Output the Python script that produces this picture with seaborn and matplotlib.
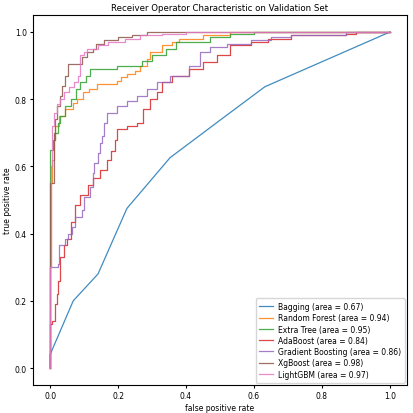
import matplotlib
matplotlib.use("Agg")
import matplotlib.pyplot as plt
import seaborn as sns

# fpr / tpr
bag_fpr = [0.0, 0.0, 0.068, 0.141, 0.226, 0.353, 0.506, 0.632, 1.0]
bag_tpr = [0.0, 0.04, 0.2, 0.28, 0.475, 0.626, 0.742, 0.837, 1.0]

rf_fpr = [0.0, 0.0, 0.003, 0.006, 0.01, 0.015, 0.025, 0.044, 0.068, 0.08, 0.097, 0.115, 0.138,
          0.197, 0.21, 0.226, 0.25, 0.265, 0.285, 0.294, 0.33, 0.36, 0.38, 0.45, 0.53, 1.0]
rf_tpr = [0.0, 0.3, 0.55, 0.62, 0.68, 0.72, 0.75, 0.77, 0.79, 0.80, 0.82, 0.83, 0.846,
          0.855, 0.865, 0.875, 0.885, 0.9, 0.92, 0.94, 0.96, 0.97, 0.98, 0.99, 1.0, 1.0]

et_fpr = [0.0, 0.0, 0.0, 0.008, 0.015, 0.022, 0.03, 0.045, 0.06, 0.075, 0.088, 0.105, 0.118,
          0.197, 0.27, 0.3, 0.34, 0.37, 0.47, 0.53, 0.6, 1.0]
et_tpr = [0.0, 0.55, 0.65, 0.68, 0.70, 0.73, 0.75, 0.78, 0.80, 0.83, 0.85, 0.87, 0.89,
          0.9, 0.915, 0.93, 0.95, 0.97, 0.985, 0.994, 1.0, 1.0]

ada_fpr = [0.0, 0.0, 0.005, 0.015, 0.02, 0.024, 0.03, 0.04, 0.05, 0.06, 0.074, 0.088, 0.112,
           0.127, 0.147, 0.167, 0.18, 0.19, 0.197, 0.226, 0.256, 0.274, 0.294, 0.315, 0.33,
           0.36, 0.41, 0.45, 0.49, 0.53, 0.59, 0.64, 0.71, 0.87, 0.9, 1.0]
ada_tpr = [0.0, 0.13, 0.14, 0.19, 0.22, 0.26, 0.33, 0.365, 0.385, 0.435, 0.485, 0.515, 0.545,
           0.565, 0.59, 0.62, 0.645, 0.68, 0.71, 0.72, 0.73, 0.77, 0.8, 0.82, 0.85,
           0.87, 0.89, 0.91, 0.93, 0.96, 0.97, 0.98, 0.99, 0.995, 1.0, 1.0]

gb_fpr = [0.0, 0.0, 0.024, 0.026, 0.044, 0.053, 0.065, 0.074, 0.094, 0.1, 0.118, 0.125, 0.13,
          0.14, 0.147, 0.152, 0.16, 0.167, 0.197, 0.226, 0.256, 0.285, 0.315, 0.353, 0.41,
          0.44, 0.47, 0.52, 0.59, 0.65, 0.71, 0.87, 1.0]
gb_tpr = [0.0, 0.30, 0.31, 0.365, 0.385, 0.40, 0.42, 0.45, 0.47, 0.51, 0.54, 0.58, 0.61,
          0.64, 0.67, 0.69, 0.73, 0.76, 0.78, 0.795, 0.81, 0.83, 0.85, 0.87, 0.9,
          0.94, 0.955, 0.965, 0.975, 0.985, 0.99, 1.0, 1.0]

xgb_fpr = [0.0, 0.0, 0.01, 0.015, 0.02, 0.03, 0.035, 0.045, 0.053, 0.094, 0.11, 0.125, 0.135,
           0.16, 0.2, 0.24, 0.285, 1.0]
xgb_tpr = [0.0, 0.55, 0.7, 0.74, 0.78, 0.81, 0.84, 0.87, 0.905, 0.925, 0.94, 0.95, 0.965,
           0.975, 0.985, 0.99, 1.0, 1.0]

lgb_fpr = [0.0, 0.0, 0.003, 0.006, 0.012, 0.02, 0.03, 0.04, 0.055, 0.07, 0.083, 0.088, 0.1,
           0.11, 0.14, 0.17, 0.22, 0.265, 0.33, 0.4, 1.0]
lgb_tpr = [0.0, 0.3, 0.6, 0.72, 0.76, 0.785, 0.8, 0.82, 0.835, 0.85, 0.87, 0.93, 0.94,
           0.95, 0.96, 0.97, 0.98, 0.99, 0.995, 1.0, 1.0]

labels = ["Bagging (area = 0.67)", "Random Forest (area = 0.94)", "Extra Tree (area = 0.95)",
          "AdaBoost (area = 0.84)", "Gradient Boosting (area = 0.86)", "XgBoost (area = 0.98)",
          "LightGBM (area = 0.97)"]

curves = [(bag_fpr, bag_tpr), (rf_fpr, rf_tpr), (et_fpr, et_tpr), (ada_fpr, ada_tpr),
          (gb_fpr, gb_tpr), (xgb_fpr, xgb_tpr), (lgb_fpr, lgb_tpr)]
colors = sns.color_palette("tab10", 7)

fig = plt.figure(figsize=(4.14, 4.14), dpi=100)
ax = fig.add_axes([0.080, 0.068, 0.903, 0.893])

for i, (fpr, tpr) in enumerate(curves):
    ds = "default" if i == 0 else "steps-post"
    sns.lineplot(x=fpr, y=tpr, ax=ax, estimator=None, sort=False, color=colors[i],
                 label=labels[i], drawstyle=ds, lw=0.9, alpha=0.85)

ax.set_title("Receiver Operator Characteristic on Validation Set", fontsize=6.2, pad=4)
ax.set_xlabel("false positive rate", fontsize=5.5, labelpad=2)
ax.set_ylabel("true positive rate", fontsize=5.5, labelpad=2)
ax.tick_params(labelsize=5.5, length=2.5, pad=2)
ax.set_xticks([0.0, 0.2, 0.4, 0.6, 0.8, 1.0])
ax.set_yticks([0.0, 0.2, 0.4, 0.6, 0.8, 1.0])
ax.legend(loc="lower right", fontsize=5.5, handlelength=1.8, borderpad=0.5,
          labelspacing=0.3, handletextpad=0.6, borderaxespad=0.3)

fig.savefig("out.png", dpi=100)
